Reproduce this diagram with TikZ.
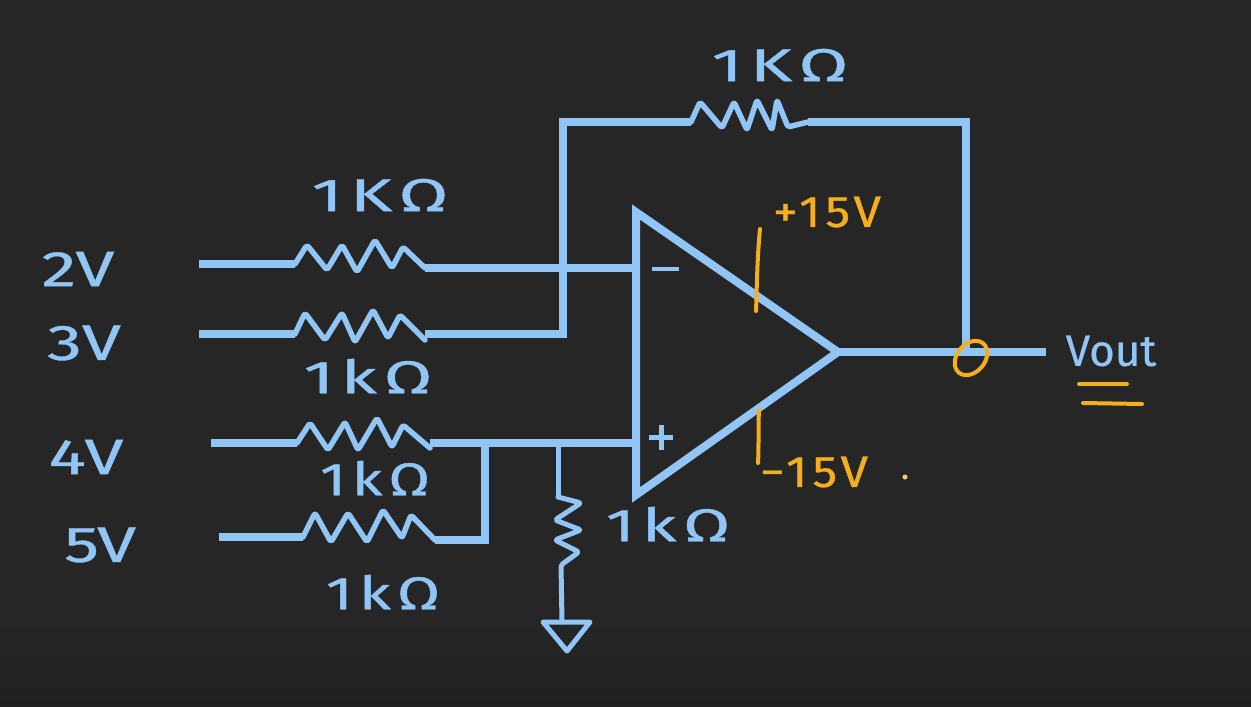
\documentclass[tikz,border=0pt]{standalone}
\usepackage{fontspec}
\setmainfont{Fira Sans}
\newfontfamily\handfont[FakeBold=0.7]{Fira Sans}
\newfontfamily\spacedfont[FakeBold=0.7,LetterSpace=10]{Fira Sans}
\newfontfamily\voutfont[FakeBold=0.4]{Fira Sans}
\definecolor{bg}{HTML}{262626}
\definecolor{bgdark}{HTML}{202020}
\definecolor{wireblue}{HTML}{90C5F5}
\definecolor{penyellow}{HTML}{F5AE1C}
\tikzset{
  wire/.style={draw=wireblue,line width=7.5pt,line cap=butt,line join=miter},
  thinwire/.style={draw=wireblue,line width=5pt,line cap=round,line join=round},
  zig/.style={draw=wireblue,line width=5.5pt,line cap=round,line join=round,rounded corners=2.5pt},
  pen/.style={draw=penyellow,line width=4pt,line cap=round,line join=round},
  wide/.style={xscale=#1,transform shape},
  vlabel/.style={text=wireblue,inner sep=0pt,font=\handfont\fontsize{50}{50}\selectfont,wide=1.4},
  rlabel/.style={text=wireblue,inner sep=0pt,font=\spacedfont\fontsize{46}{46}\selectfont,wide=#1},
  ylabel/.style={text=penyellow,inner sep=0pt,font=\spacedfont\fontsize{44}{44}\selectfont,wide=1.12}
}
\begin{document}
\begin{tikzpicture}[x=1pt,y=-1pt]
\fill[bg] (0,0) rectangle (1251,707);
\shade[top color=bg,bottom color=bgdark] (0,620) rectangle (1251,707);
\useasboundingbox (0,0) rectangle (1251,707);

% terminals and junctions
\coordinate (in2) at (199,264);
\coordinate (in3) at (199,334);
\coordinate (in4) at (211,443);
\coordinate (in5) at (219,537);
\coordinate (r1a) at (295,264);
\coordinate (r1b) at (425,268);
\coordinate (r2a) at (295,334);
\coordinate (r2b) at (425,334);
\coordinate (r3a) at (297,443);
\coordinate (r3b) at (430,443);
\coordinate (r4a) at (303,537);
\coordinate (r4b) at (435,540);
\coordinate (fa) at (691,122);
\coordinate (fb) at (808,122);
\coordinate (tl) at (563,122);
\coordinate (tr) at (966,122);
\coordinate (jfb) at (563,334);
\coordinate (jr4) at (485,443);
\coordinate (jr4b) at (485,540);
\coordinate (jg) at (558,443);
\coordinate (ampm) at (636,268);
\coordinate (ampp) at (636,443);
\coordinate (ampt) at (636,212);
\coordinate (ampb) at (636,495);
\coordinate (ampo) at (838,352);
\coordinate (jout) at (966,352);
\coordinate (outend) at (1046,352);
\coordinate (gz) at (558,497);
\coordinate (gw) at (561,565);
\coordinate (gt) at (562,622);

% wires
\draw[wire] (in2) -- (r1a);
\draw[wire] (in3) -- (r2a);
\draw[wire] (in4) -- (r3a);
\draw[wire] (in5) -- (r4a);
\draw[wire] (r1b) -- (ampm);
\draw[wire] (r2b) -- (jfb) -- (tl) -- (fa);
\draw[wire] (fb) -- (tr) -- (jout);
\draw[wire] (r3b) -- (ampp);
\draw[wire] (r4b) -- (jr4b) -- (jr4);
\draw[wire] (ampo) -- (outend);
\draw[thinwire] (jg) -- (gz);

% resistors
\draw[zig] (r1a) -- (307,245) -- (327,270) -- (342,245) -- (357,272) -- (375,240) -- (392,268) -- (403,247) -- (r1b);
\draw[zig] (r2a) -- (305,313) -- (325,340) -- (342,313) -- (355,342) -- (373,310) -- (388,338) -- (400,315) -- (425,340);
\draw[zig] (r3a) -- (310,423) -- (328,450) -- (345,422) -- (358,450) -- (377,418) -- (392,447) -- (403,425) -- (430,448);
\draw[zig] (r4a) -- (315,513) -- (331,542) -- (348,513) -- (367,542) -- (383,510) -- (402,538) -- (411,515) -- (r4b);
\draw[zig] (fa) -- (700,102) -- (722,128) -- (734,102) -- (747,130) -- (757,100) -- (772,130) -- (777,100) -- (788,127) -- (fb);
\draw[zig,line width=5pt] (gz) -- (581,503) -- (555,520) -- (581,530) -- (555,540) -- (579,552) -- (gw) -- (gt);

% ground
\draw[thinwire] (543,622) -- (590,622) -- (567,651) -- cycle;

% op-amp
\draw[wire,line width=8pt,miter limit=10] (ampt) -- (ampo) -- (ampb) -- cycle;
\draw[draw=wireblue,line width=3.5pt] (652,269) -- (679,269);
\draw[draw=wireblue,line width=5pt] (649,437) -- (673,437);
\draw[draw=wireblue,line width=5pt] (661,425) -- (661,450);

% yellow marks
\draw[pen] (760,229) .. controls (757,260) and (757,285) .. (756,311);
\draw[pen] (759,410) .. controls (758,430) and (759,445) .. (758,463);
\draw[pen,rotate around={50:(971,358)}] (971,358) ellipse (19pt and 14pt);
\draw[pen] (1079,384) -- (1127,384);
\draw[pen] (1083,403) -- (1142,404);
\fill[penyellow!60!white] (905,477) circle (2.5pt);

% labels
\node[rlabel=1.56] (l0) at (780,65) {1KΩ};
\node[rlabel=1.56] (l1) at (380,195) {1KΩ};
\node[rlabel=1.52] (l2) at (368,376) {1kΩ};
\node[rlabel=1.30] (l3) at (375,478) {1kΩ};
\node[rlabel=1.35] (l4) at (383,592) {1kΩ};
\node[rlabel=1.47] (l5) at (668,524) {1kΩ};
\node[vlabel] (v2) at (78,269) {2V};
\node[vlabel] (v3) at (84,343) {3V};
\node[vlabel] (v4) at (86,457) {4V};
\node[vlabel] (v5) at (100,545) {5V};
\node[ylabel] (pv) at (827,212) {+15V};
\node[ylabel] (mv) at (814,472) {−15V};
\node[text=wireblue,inner sep=0pt,font=\voutfont\fontsize{44}{44}\selectfont] (vout) at (1111,351) {Vout};
\end{tikzpicture}
\end{document}
